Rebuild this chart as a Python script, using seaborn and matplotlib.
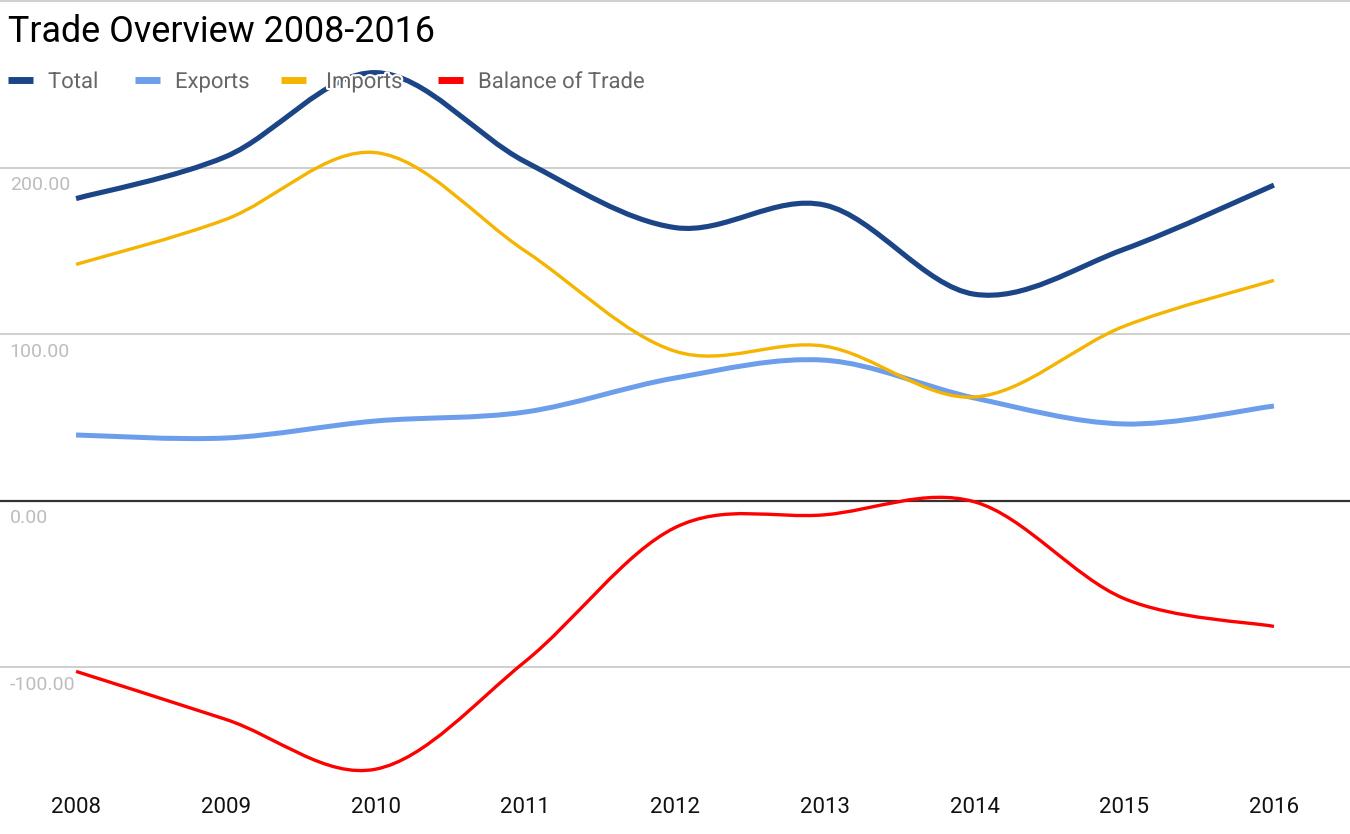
import numpy as np
import pandas as pd
import matplotlib
matplotlib.use("Agg")
import matplotlib.pyplot as plt
import seaborn as sns
from matplotlib.path import Path
from matplotlib.patches import PathPatch
from matplotlib.lines import Line2D
import matplotlib.patheffects as pe

# ---------------- data ----------------
years = [2008, 2009, 2010, 2011, 2012, 2013, 2014, 2015, 2016]
total = [181.4, 206.6, 257.0, 203.5, 164.0, 177.5, 124.0, 151.0, 189.5]
exports = [39.5, 37.7, 47.9, 53.3, 73.7, 84.4, 61.7, 46.1, 56.9]
imports = [141.9, 168.9, 209.0, 149.9, 89.8, 92.8, 62.3, 104.8, 132.3]
balance = [-102.4, -131.2, -161.1, -96.4, -16.1, -8.4, -0.6, -58.7, -75.4]
series_names = ["Total", "Exports", "Imports", "Balance of Trade"]
y_ticks = [-100, 0, 100, 200]
y_tick_labels = ["-100.00", "0.00", "100.00", "200.00"]
title = "Trade Overview 2008-2016"

colors = {"Total": "#1c4587", "Exports": "#6d9eeb",
          "Imports": "#f4b400", "Balance of Trade": "#ff0000"}
widths = {"Total": 3.7, "Exports": 3.6, "Imports": 2.4, "Balance of Trade": 2.4}

df = pd.DataFrame({"year": years, "Total": total, "Exports": exports,
                   "Imports": imports, "Balance of Trade": balance})
long = df.melt(id_vars="year", var_name="series", value_name="value")

sns.set_theme(style="white")
plt.rcParams["font.family"] = ["Roboto", "DejaVu Sans"]

W, H = 1350, 834
fig = plt.figure(figsize=(W / 100, H / 100), dpi=100)
ymin, ymax = -170, 300
top_px, scale = 1.0, 1.666
bottom_px = top_px + (ymax - ymin) * scale
ax = fig.add_axes([0, 1 - bottom_px / H, 1, (bottom_px - top_px) / H])
ax.set_xlim(2007.492, 2016.508)
ax.set_ylim(ymin, ymax)
for s in ax.spines.values():
    s.set_visible(False)
ax.set_facecolor("white")


def smooth_path(xs, ys):
    xs = np.asarray(xs, float)
    ys = np.asarray(ys, float)
    pts = np.column_stack([xs, ys])
    n = len(pts)
    verts = [pts[0]]
    codes = [Path.MOVETO]
    for i in range(n - 1):
        p0 = pts[i - 1] if i > 0 else pts[i]
        p1 = pts[i]
        p2 = pts[i + 1]
        p3 = pts[i + 2] if i + 2 < n else pts[i + 1]
        c1 = p1 + (p2 - p0) / 6.0
        c2 = p2 - (p3 - p1) / 6.0
        verts += [c1, c2, p2]
        codes += [Path.CURVE4] * 3
    return Path(verts, codes)


# gridlines
for v in y_ticks + [300]:
    if v == 0:
        continue
    ax.axhline(v, color="#cccccc", lw=1.3, zorder=1, clip_on=False)
ax.axhline(0, color="#333333", lw=1.6, zorder=1)

# curves
for z, name in enumerate(series_names):
    sub = long[long["series"] == name]
    path = smooth_path(sub["year"].values, sub["value"].values)
    patch = PathPatch(path, fill=False, edgecolor=colors[name],
                      lw=widths[name], capstyle="butt", joinstyle="round",
                      zorder=3 + z)
    ax.add_patch(patch)

# y tick labels inside plot
for v, lab in zip(y_ticks, y_tick_labels):
    ax.annotate(lab, xy=(0, v), xycoords=("axes fraction", "data"),
                xytext=(7, -6), textcoords="offset points",
                ha="left", va="top", fontsize=14, color="#bdbdbd", zorder=2)
ax.set_yticks([])

ax.set_xticks(years)
ax.set_xticklabels([str(y) for y in years], fontsize=16, color="#111111")
ax.tick_params(axis="x", length=0, pad=9)
ax.grid(False)

# title
fig.text(8 / W, 1 - 42 / H, title, fontsize=25.8, color="#000000",
         ha="left", va="baseline")

# legend
leg_items = [(8, 48), (135, 175), (281, 326), (438, 478)]
halo = [pe.withStroke(linewidth=3, foreground="white")]
for (mx, tx), name in zip(leg_items, series_names):
    y = 1 - 80 / H
    fig.add_artist(Line2D([mx / W, (mx + 25) / W], [y, y], color=colors[name],
                          lw=5, solid_capstyle="butt", zorder=10))
    fig.text(tx / W, 1 - 88 / H, name, fontsize=15.9, color="#666666",
             ha="left", va="baseline", zorder=11, path_effects=halo)

fig.savefig("out.png", dpi=100, facecolor="white")
